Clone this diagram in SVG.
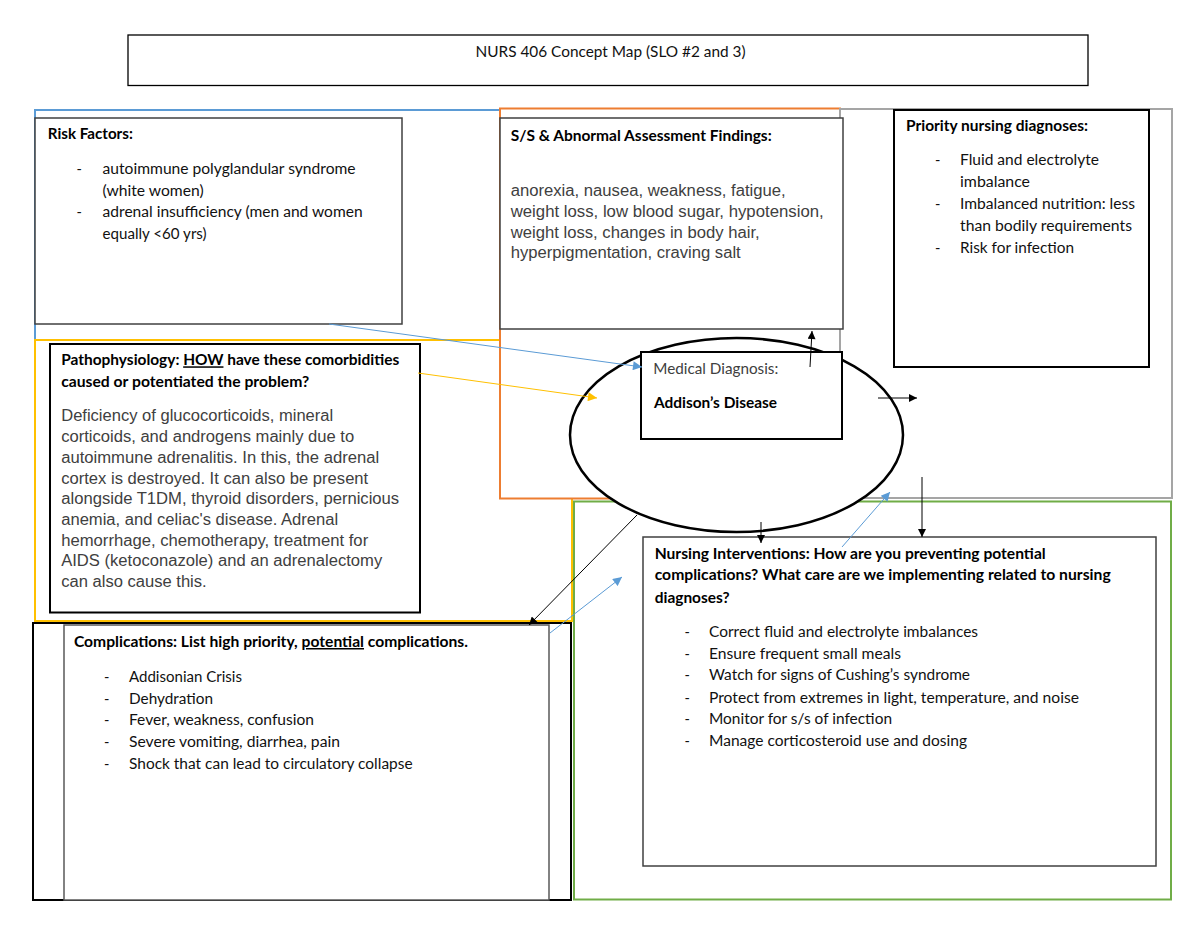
<svg xmlns="http://www.w3.org/2000/svg" width="1200" height="927" viewBox="0 0 1200 927">
<style>
.c{font-family:Lato,"Open Sans","Liberation Sans",sans-serif;font-size:15px;fill:#111}
.s{font-size:14.5px}
.b{font-weight:bold;fill:#000}
.a{font-family:"Liberation Sans",Arial,sans-serif;font-size:16px;fill:#404040}
.g{fill:#404040}
.fr{fill:#fff;stroke-width:2}
.bx{fill:#fff;stroke:#404040;stroke-width:1.5}
.bk{fill:#fff;stroke:#000;stroke-width:2}
.ln{fill:none;stroke-width:1}
.u{text-decoration:underline}
</style>
<defs>
<marker id="mb" viewBox="0 0 10 10" refX="10" refY="5" markerWidth="11" markerHeight="9" orient="auto" markerUnits="userSpaceOnUse"><path d="M0,0L10,5L0,10z" fill="#5B9BD5"/></marker>
<marker id="my" viewBox="0 0 10 10" refX="10" refY="5" markerWidth="11" markerHeight="9" orient="auto" markerUnits="userSpaceOnUse"><path d="M0,0L10,5L0,10z" fill="#FFC000"/></marker>
<marker id="mk" viewBox="0 0 10 10" refX="10" refY="5" markerWidth="10" markerHeight="8" orient="auto" markerUnits="userSpaceOnUse"><path d="M0,0L10,5L0,10z" fill="#000"/></marker>
</defs>
<rect x="0" y="0" width="1200" height="927" fill="#fff"/>

<g id="title">
<rect x="128" y="35" width="960" height="50.5" fill="#fff" stroke="#000" stroke-width="1.3"/>
<text class="c" x="475.5" y="57.3" textLength="270" lengthAdjust="spacingAndGlyphs">NURS 406 Concept Map (SLO #2 and 3)</text>
</g>

<g id="frames">
<rect class="fr" x="35" y="110" width="465" height="230" stroke="#5B9BD5"/>
<rect class="fr" x="35" y="340" width="537" height="281" stroke="#FFC000"/>
<rect class="fr" x="500" y="108.5" width="340" height="390" stroke="#ED7D31"/>
<rect class="fr" x="840" y="109" width="332" height="389" stroke="#A5A5A5"/>
<rect class="fr" x="574" y="501.5" width="597" height="398" stroke="#70AD47"/>
<rect class="fr" x="33" y="623" width="538" height="277" stroke="#000" stroke-width="2.5"/>
</g>

<g id="risk-factors">
<rect class="bx" x="35" y="118" width="367" height="206"/>
<text class="c b" x="47.8" y="139.3" textLength="85" lengthAdjust="spacingAndGlyphs">Risk Factors:</text>
<text class="c s" x="76.5" y="174">-</text>
<text class="c s" x="102.6" y="174" textLength="253" lengthAdjust="spacingAndGlyphs">autoimmune polyglandular syndrome</text>
<text class="c s" x="102.6" y="195.5" textLength="101" lengthAdjust="spacingAndGlyphs">(white women)</text>
<text class="c s" x="76.5" y="217.3">-</text>
<text class="c s" x="102.6" y="217.3" textLength="260" lengthAdjust="spacingAndGlyphs">adrenal insufficiency (men and women</text>
<text class="c s" x="102.6" y="238.5" textLength="104" lengthAdjust="spacingAndGlyphs">equally &lt;60 yrs)</text>
</g>

<g id="ss-findings">
<rect class="bx" x="500" y="118" width="343" height="211"/>
<text class="c b" x="510.7" y="141" textLength="261" lengthAdjust="spacingAndGlyphs">S/S &amp; Abnormal Assessment Findings:</text>
<text class="a" x="510.7" y="196" textLength="275" lengthAdjust="spacingAndGlyphs">anorexia, nausea, weakness, fatigue,</text>
<text class="a" x="510.7" y="216.5" textLength="313" lengthAdjust="spacingAndGlyphs">weight loss, low blood sugar, hypotension,</text>
<text class="a" x="510.7" y="238" textLength="249" lengthAdjust="spacingAndGlyphs">weight loss, changes in body hair,</text>
<text class="a" x="510.7" y="258" textLength="230" lengthAdjust="spacingAndGlyphs">hyperpigmentation, craving salt</text>
</g>

<g id="priority-diagnoses">
<rect class="bk" x="894" y="110" width="255" height="257"/>
<text class="c b" x="906" y="131" textLength="182" lengthAdjust="spacingAndGlyphs">Priority nursing diagnoses:</text>
<text class="c s" x="935" y="165.3">-</text>
<text class="c s" x="960" y="165.3" textLength="139" lengthAdjust="spacingAndGlyphs">Fluid and electrolyte</text>
<text class="c s" x="960" y="187" textLength="70" lengthAdjust="spacingAndGlyphs">imbalance</text>
<text class="c s" x="935" y="208.5">-</text>
<text class="c s" x="960" y="208.5" textLength="175" lengthAdjust="spacingAndGlyphs">Imbalanced nutrition: less</text>
<text class="c s" x="960" y="231" textLength="172" lengthAdjust="spacingAndGlyphs">than bodily requirements</text>
<text class="c s" x="935" y="252.8">-</text>
<text class="c s" x="960" y="252.8" textLength="114" lengthAdjust="spacingAndGlyphs">Risk for infection</text>
</g>

<g id="pathophysiology">
<rect class="bk" x="50" y="344" width="370" height="268.5"/>
<text class="c b" x="61.2" y="365.3" textLength="338" lengthAdjust="spacingAndGlyphs">Pathophysiology: <tspan class="u">HOW</tspan> have these comorbidities</text>
<text class="c b" x="61.2" y="387" textLength="248" lengthAdjust="spacingAndGlyphs">caused or potentiated the problem?</text>
<text class="a" x="61.2" y="421" textLength="272" lengthAdjust="spacingAndGlyphs">Deficiency of glucocorticoids, mineral</text>
<text class="a" x="61.2" y="442" textLength="293" lengthAdjust="spacingAndGlyphs">corticoids, and androgens mainly due to</text>
<text class="a" x="61.2" y="462.6" textLength="318" lengthAdjust="spacingAndGlyphs">autoimmune adrenalitis. In this, the adrenal</text>
<text class="a" x="61.2" y="483.6" textLength="307" lengthAdjust="spacingAndGlyphs">cortex is destroyed. It can also be present</text>
<text class="a" x="61.2" y="504.3" textLength="338" lengthAdjust="spacingAndGlyphs">alongside T1DM, thyroid disorders, pernicious</text>
<text class="a" x="61.2" y="525.3" textLength="277" lengthAdjust="spacingAndGlyphs">anemia, and celiac's disease. Adrenal</text>
<text class="a" x="61.2" y="546" textLength="307" lengthAdjust="spacingAndGlyphs">hemorrhage, chemotherapy, treatment for</text>
<text class="a" x="61.2" y="566.3" textLength="321" lengthAdjust="spacingAndGlyphs">AIDS (ketoconazole) and an adrenalectomy</text>
<text class="a" x="61.2" y="587" textLength="145.5" lengthAdjust="spacingAndGlyphs">can also cause this.</text>
</g>

<g id="medical-diagnosis">
<ellipse cx="736.5" cy="435" rx="166.5" ry="97" fill="#fff" stroke="#000" stroke-width="2.5"/>
<rect class="bk" x="641" y="352" width="201" height="87"/>
<text class="c g" x="653.3" y="374.3" textLength="125" lengthAdjust="spacingAndGlyphs">Medical Diagnosis:</text>
<text class="c b" x="654" y="407.6" textLength="123" lengthAdjust="spacingAndGlyphs">Addison’s Disease</text>
</g>

<g id="complications">
<rect x="64" y="625" width="485" height="275" fill="#fff" stroke="#595959" stroke-width="1.5"/>
<text class="c b" x="73.9" y="647" textLength="394" lengthAdjust="spacingAndGlyphs">Complications: List high priority, <tspan class="u">potential</tspan> complications.</text>
<text class="c s" x="104" y="682">-</text>
<text class="c s" x="129" y="682" textLength="113" lengthAdjust="spacingAndGlyphs">Addisonian Crisis</text>
<text class="c s" x="104" y="703.6">-</text>
<text class="c s" x="129" y="703.6" textLength="84" lengthAdjust="spacingAndGlyphs">Dehydration</text>
<text class="c s" x="104" y="725.3">-</text>
<text class="c s" x="129" y="725.3" textLength="185" lengthAdjust="spacingAndGlyphs">Fever, weakness, confusion</text>
<text class="c s" x="104" y="747">-</text>
<text class="c s" x="129" y="747" textLength="211" lengthAdjust="spacingAndGlyphs">Severe vomiting, diarrhea, pain</text>
<text class="c s" x="104" y="768.6">-</text>
<text class="c s" x="129" y="768.6" textLength="283.6" lengthAdjust="spacingAndGlyphs">Shock that can lead to circulatory collapse</text>
</g>

<g id="nursing-interventions">
<rect class="bx" x="643" y="537" width="513" height="329"/>
<text class="c b" x="654.7" y="558.6" textLength="391" lengthAdjust="spacingAndGlyphs">Nursing Interventions: How are you preventing potential</text>
<text class="c b" x="654.7" y="580.3" textLength="456" lengthAdjust="spacingAndGlyphs">complications? What care are we implementing related to nursing</text>
<text class="c b" x="654.7" y="603" textLength="75" lengthAdjust="spacingAndGlyphs">diagnoses?</text>
<text class="c s" x="684.5" y="637">-</text>
<text class="c s" x="709" y="637" textLength="269" lengthAdjust="spacingAndGlyphs">Correct fluid and electrolyte imbalances</text>
<text class="c s" x="684.5" y="658.6">-</text>
<text class="c s" x="709" y="658.6" textLength="192" lengthAdjust="spacingAndGlyphs">Ensure frequent small meals</text>
<text class="c s" x="684.5" y="680.3">-</text>
<text class="c s" x="709" y="680.3" textLength="261" lengthAdjust="spacingAndGlyphs">Watch for signs of Cushing’s syndrome</text>
<text class="c s" x="684.5" y="702.6">-</text>
<text class="c s" x="709" y="702.6" textLength="370" lengthAdjust="spacingAndGlyphs">Protect from extremes in light, temperature, and noise</text>
<text class="c s" x="684.5" y="723.6">-</text>
<text class="c s" x="709" y="723.6" textLength="183" lengthAdjust="spacingAndGlyphs">Monitor for s/s of infection</text>
<text class="c s" x="684.5" y="746">-</text>
<text class="c s" x="709" y="746" textLength="258" lengthAdjust="spacingAndGlyphs">Manage corticosteroid use and dosing</text>
</g>

<g id="connectors">
<line class="ln" x1="329" y1="324" x2="642" y2="367" stroke="#5B9BD5" marker-end="url(#mb)"/>
<line class="ln" x1="418" y1="373" x2="597" y2="398" stroke="#FFC000" marker-end="url(#my)"/>
<line class="ln" x1="810" y1="367" x2="812" y2="331" stroke="#000" marker-end="url(#mk)"/>
<line class="ln" x1="878" y1="398" x2="917" y2="398" stroke="#000" marker-end="url(#mk)"/>
<line class="ln" x1="922" y1="477" x2="922" y2="537" stroke="#000" marker-end="url(#mk)"/>
<line class="ln" x1="761" y1="522" x2="761" y2="543" stroke="#000" marker-end="url(#mk)"/>
<line class="ln" x1="842" y1="547" x2="890" y2="492" stroke="#5B9BD5" marker-end="url(#mb)"/>
<line class="ln" x1="637" y1="515" x2="529" y2="625" stroke="#000" marker-end="url(#mk)"/>
<line class="ln" x1="550" y1="633" x2="622" y2="577" stroke="#5B9BD5" marker-end="url(#mb)"/>
</g>
</svg>
